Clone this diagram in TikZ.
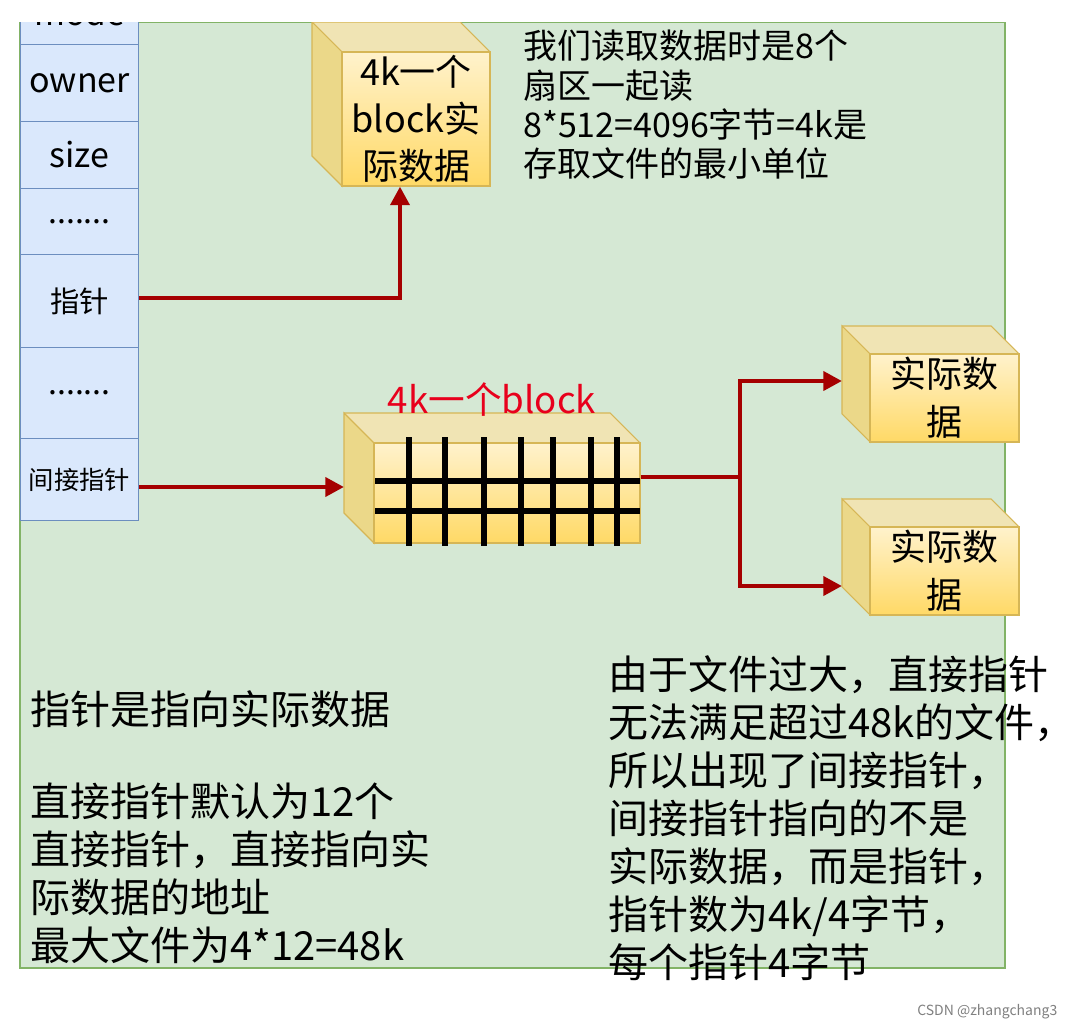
\documentclass[tikz,border=0pt]{standalone}
\usepackage{fontspec}
\setmainfont{Noto Sans CJK SC}
\usetikzlibrary{arrows.meta}
\definecolor{bgg}{HTML}{D5E8D4}
\definecolor{bgb}{HTML}{82B366}
\definecolor{cellf}{HTML}{DAE8FC}
\definecolor{celld}{HTML}{6C8EBF}
\definecolor{yb}{HTML}{D6B656}
\definecolor{ytop}{HTML}{FFF2CC}
\definecolor{ybot}{HTML}{FFD966}
\definecolor{yside}{HTML}{EBD889}
\definecolor{ytopf}{HTML}{F0E4B4}
\definecolor{dred}{HTML}{A50000}
\definecolor{lred}{HTML}{E8001C}
\begin{document}
\begin{tikzpicture}[x=0.75pt,y=-0.75pt,
  cell/.style={draw=celld, fill=cellf, line width=0.8pt, anchor=north west, minimum width=118*0.75pt, inner sep=0pt},
  side/.style={fill=yside},
  topf/.style={fill=ytopf},
  front/.style={draw=yb, line width=0.8pt, top color=ytop, bottom color=ybot, inner sep=0pt},
  arr/.style={draw=dred, line width=3.5pt, -{Triangle[length=14pt,width=14pt]}},
  ln/.style={draw=dred, line width=3.5pt},
  grid/.style={line width=4pt, black},
  big/.style={font=\fontsize{30}{36}\selectfont, align=left, anchor=north west, inner sep=0pt},
  mid/.style={font=\fontsize{25.5}{29.5}\selectfont, align=left, anchor=north west, inner sep=0pt}]
\newcommand\mycube[6]{%
  \fill[side] (#2-#6,#3-#6)--(#2,#3)--(#2,#5)--(#2-#6,#5-#6)--cycle;
  \fill[topf] (#2-#6,#3-#6)--(#4-#6,#3-#6)--(#4,#3)--(#2,#3)--cycle;
  \draw[yb, line width=0.8pt] (#2-#6,#3-#6)--(#2,#3)--(#2,#5)--(#2-#6,#5-#6)--cycle;
  \draw[yb, line width=0.8pt] (#2-#6,#3-#6)--(#4-#6,#3-#6)--(#4,#3);
  \node[front, minimum width={(#4-#2)*0.75pt}, minimum height={(#5-#3)*0.75pt}] (#1) at ({(#2+#4)/2},{(#3+#5)/2}) {};}
\useasboundingbox (0,0) rectangle (1077,1031);
\fill[white] (0,0) rectangle (1077,1031);
\fill[bgg, draw=bgb, line width=0.8pt] (20,22) rectangle (1005,968);
% column
\node[cell, minimum height=64*0.75pt, font=\fontsize{25}{26}\selectfont] (c0) at (20,-20) {mode};
\node[cell, minimum height=77*0.75pt, font=\fontsize{25.5}{26}\selectfont] (c1) at (20,44) {owner};
\node[cell, minimum height=67*0.75pt, font=\fontsize{25.5}{26}\selectfont] (c2) at (20,121) {size};
\node[cell, minimum height=66*0.75pt, font=\fontsize{24}{26}\selectfont] (c3) at (20,188) {.......};
\node[cell, minimum height=93*0.75pt, font=\fontsize{22}{26}\selectfont] (c4) at (20,254) {指针};
\node[cell, minimum height=91*0.75pt, font=\fontsize{24}{26}\selectfont] (c5) at (20,347) {.......};
\node[cell, minimum height=82*0.75pt, font=\fontsize{19}{26}\selectfont] (c6) at (20,438) {间接指针};
% cubes
\mycube{b1}{342}{52}{490}{186}{30}
\node[font=\fontsize{27}{35}\selectfont, align=center] at (b1) {4k一个\\block实\\际数据};
\mycube{b2}{374}{443}{640}{543}{30}
\foreach \yy in {481,511} \draw[grid] (375,\yy) -- (640,\yy);
\foreach \xx in {409,445,484,521,553,591,617} \draw[grid] (\xx,437) -- (\xx,546);
\node[text=lred, font=\fontsize{27.5}{30}\selectfont] (lb) at (492,400) {4k一个block};
\mycube{b3}{870}{354}{1019}{442}{28}
\node[font=\fontsize{27}{36}\selectfont, align=center] at (b3) {实际数\\据};
\mycube{b4}{870}{527}{1019}{615}{28}
\node[font=\fontsize{27}{36}\selectfont, align=center] at (b4) {实际数\\据};
\fill[white] (0,0) rectangle (1077,22);
% connectors
\coordinate (k1) at (400,298);
\draw[arr] (c4.east |- k1) -- (k1) -- (b1.south -| k1);
\coordinate (k2) at (344,487);
\draw[arr] (c6.east |- k2) -- (k2);
\coordinate (s) at (740,477);
\coordinate (u) at (842,381);
\coordinate (d) at (842,586);
\draw[ln] (b2.east |- s) -- (s);
\draw[arr] (s) -- (s |- u) -- (u);
\draw[arr] (s) -- (s |- d) -- (d);
% texts
\node[mid] (t1) at (523,30) {我们读取数据时是8个\\扇区一起读\\8*512=4096字节=4k是\\存取文件的最小单位};
\node[big] (t2) at (30,690) {指针是指向实际数据\\[33pt]直接指针默认为12个\\直接指针，直接指向实\\际数据的地址\\最大文件为4*12=48k};
\node[big] (t3) at (608,655) {由于文件过大，直接指针\\无法满足超过48k的文件，\\所以出现了间接指针，\\间接指针指向的不是\\实际数据，而是指针，\\指针数为4k/4字节，\\每个指针4字节};
\node[text=gray, font=\fontsize{10.5}{12}\selectfont, anchor=east] (wm) at (1062,1012) {CSDN @zhangchang3};
\end{tikzpicture}
\end{document}
